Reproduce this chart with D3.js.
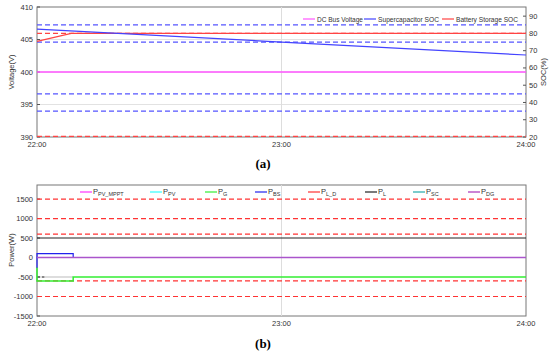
<!DOCTYPE html>
<html>
<head>
<meta charset="utf-8">
<script src="https://cdn.jsdelivr.net/npm/d3@7"></script>
<style>
  body { margin: 0; background: #fff; }
  text { font-family: "Liberation Sans", Arial, sans-serif; }
</style>
</head>
<body>
<div id="chart"></div>
<script>
var w = 550, h = 357;

// shared time axis (hours)
var timeDomain = [22, 24];
var timeTicks = [22, 23, 24];
var timeLabels = ["22:00", "23:00", "24:00"];

// (a) voltage / SOC
var voltTicks = [390, 395, 400, 405, 410];
var socTicks = [20, 30, 40, 50, 60, 70, 80, 90];
var dcBusTime = [22, 24];
var dcBusVoltage = [400, 400];
var scTime = [22, 23, 24];
var scSOC = [82.5, 75, 67.5];
var bsTime = [22, 22.14, 24];
var bsSOC = [75.4, 80, 80];
var scLimits = [85, 75, 45, 35];
var bsLimits = [80, 20.4];
var legendA = ["DC Bus Voltage", "Supercapacitor SOC", "Battery Storage SOC"];
var colorsA = ["#ff55ff", "#4444ff", "#ff4444"];

// (b) power
var powerTicks = [-1500, -1000, -500, 0, 500, 1000, 1500];
var stepTime = [22, 22, 22.148, 22.148, 24];
var pBS = [-260, 100, 100, 0, 0];
var pG = [-250, -600, -600, -500, -500];
var flatTime = [22, 24];
var pL = [500, 500];
var pZero = [0, 0];
var powerLimits = [1500, 1000, 600, -600, -1000];
var legendB = [["PV_MPPT", "#ff33ff"], ["PV", "#33ffff"], ["G", "#33ee33"], ["BS", "#2222ee"],
               ["L_D", "#ff3333"], ["L", "#222222"], ["SC", "#22aaaa"], ["DG", "#aa33bb"]];

var svg = d3.select("#chart").append("svg").attr("width", w).attr("height", h);

var x = d3.scaleLinear().domain(timeDomain).range([37, 526]);
var fs = 7.5;

function zip(t, v) { return t.map(function(d, i) { return [d, v[i]]; }); }

function frame(g, y0, y1) {
  g.append("rect").attr("x", 37).attr("y", y0).attr("width", 489).attr("height", y1 - y0)
    .attr("fill", "none").attr("stroke", "#777").attr("stroke-width", 1);
  g.selectAll(".xt").data(timeTicks).enter().append("text")
    .attr("x", function(d) { return x(d); }).attr("y", y1 + 10)
    .attr("text-anchor", "middle").attr("font-size", fs).attr("fill", "#333")
    .text(function(d, i) { return timeLabels[i]; });
  g.append("line").attr("x1", x(23)).attr("x2", x(23)).attr("y1", y0).attr("y2", y1)
    .attr("stroke", "#ddd").attr("stroke-width", 1);
}

function hline(g, yv, color, dashed, width) {
  g.append("line").attr("x1", 37).attr("x2", 526).attr("y1", yv).attr("y2", yv)
    .attr("stroke", color).attr("stroke-width", width || 1.2)
    .attr("stroke-dasharray", dashed ? "5,3" : null);
}

// ---------- (a) ----------
var ga = svg.append("g");
var yV = d3.scaleLinear().domain([390, 410]).range([137, 7]);
var yS = d3.scaleLinear().domain([20, 95.3]).range([137, 7]);

voltTicks.forEach(function(v) {
  if (v > 390 && v < 410) hline(ga, yV(v), "#e2e2e2", false, 1);
});
frame(ga, 7, 137);

voltTicks.forEach(function(v) {
  ga.append("text").attr("x", 33).attr("y", yV(v) + 2.5).attr("text-anchor", "end")
    .attr("font-size", fs).attr("fill", "#333").text(v);
  ga.append("line").attr("x1", 37).attr("x2", 40).attr("y1", yV(v)).attr("y2", yV(v)).attr("stroke", "#555");
});
socTicks.forEach(function(v) {
  ga.append("text").attr("x", 529).attr("y", yS(v) + 2.5)
    .attr("font-size", fs).attr("fill", "#333").text(v);
  ga.append("line").attr("x1", 523).attr("x2", 526).attr("y1", yS(v)).attr("y2", yS(v)).attr("stroke", "#555");
});
ga.append("text").attr("transform", "translate(14,72) rotate(-90)").attr("text-anchor", "middle")
  .attr("font-size", fs).attr("fill", "#333").text("Voltage(V)");
ga.append("text").attr("transform", "translate(546,72) rotate(-90)").attr("text-anchor", "middle")
  .attr("font-size", fs).attr("fill", "#333").text("SOC(%)");

scLimits.forEach(function(v) { hline(ga, yS(v), "#5555ff", true); });
bsLimits.forEach(function(v) { hline(ga, yS(v), "#ff4444", true); });

var lineV = d3.line().x(function(d) { return x(d[0]); }).y(function(d) { return yV(d[1]); });
var lineS = d3.line().x(function(d) { return x(d[0]); }).y(function(d) { return yS(d[1]); });

ga.append("path").attr("d", lineV(zip(dcBusTime, dcBusVoltage))).attr("fill", "none")
  .attr("stroke", colorsA[0]).attr("stroke-width", 1.5);
ga.append("path").attr("d", lineS(zip(bsTime, bsSOC))).attr("fill", "none")
  .attr("stroke", colorsA[2]).attr("stroke-width", 1.2);
ga.append("path").attr("d", lineS(zip(scTime, scSOC))).attr("fill", "none")
  .attr("stroke", colorsA[1]).attr("stroke-width", 1.2);

var legAx = [303, 364, 442];
var legAw = [46, 61, 62];
legendA.forEach(function(t, i) {
  ga.append("line").attr("x1", legAx[i]).attr("x2", legAx[i] + 12).attr("y1", 19).attr("y2", 19)
    .attr("stroke", colorsA[i]).attr("stroke-width", 1.2);
  ga.append("text").attr("x", legAx[i] + 14).attr("y", 21.5).attr("font-size", 7)
    .attr("textLength", legAw[i]).attr("lengthAdjust", "spacingAndGlyphs")
    .attr("fill", "#333").text(t);
});

svg.append("text").attr("x", 263).attr("y", 168).attr("text-anchor", "middle")
  .style("font-family", "Liberation Serif, serif").attr("font-weight", "bold").attr("font-size", 13)
  .text("(a)");

// ---------- (b) ----------
var gb = svg.append("g");
var yP = d3.scaleLinear().domain([-1500, 1860]).range([316, 185]);

frame(gb, 185, 316);
powerTicks.forEach(function(v) {
  gb.append("text").attr("x", 33).attr("y", yP(v) + 2.5).attr("text-anchor", "end")
    .attr("font-size", fs).attr("fill", "#333").text(v);
  gb.append("line").attr("x1", 37).attr("x2", 40).attr("y1", yP(v)).attr("y2", yP(v)).attr("stroke", "#555");
});
gb.append("text").attr("transform", "translate(14,250) rotate(-90)").attr("text-anchor", "middle")
  .attr("font-size", fs).attr("fill", "#333").text("Power(W)");

powerLimits.forEach(function(v) { hline(gb, yP(v), "#ff3333", true); });

var lineP = d3.line().x(function(d) { return x(d[0]); }).y(function(d) { return yP(d[1]); });
// short reference at -500 before the step
gb.append("path").attr("d", lineP([[22, -500], [22.148, -500]])).attr("fill", "none")
  .attr("stroke", "#bbb").attr("stroke-width", 1);
gb.append("path").attr("d", lineP([[22, -500], [22.03, -500]])).attr("fill", "none")
  .attr("stroke", "#333").attr("stroke-width", 1).attr("stroke-dasharray", "3,2");

gb.append("path").attr("d", lineP(zip(flatTime, pL))).attr("fill", "none")
  .attr("stroke", "#222").attr("stroke-width", 1.2);
gb.append("path").attr("d", lineP(zip(stepTime, pG))).attr("fill", "none")
  .attr("stroke", "#33ee33").attr("stroke-width", 1.5);
gb.append("path").attr("d", lineP(zip(stepTime, pBS))).attr("fill", "none")
  .attr("stroke", "#2222ee").attr("stroke-width", 1.2);
gb.append("path").attr("d", lineP(zip(flatTime, pZero))).attr("fill", "none")
  .attr("stroke", "#aa55cc").attr("stroke-width", 1.5);

var legBx = [80, 150, 205, 255, 308, 365, 413, 468];
legendB.forEach(function(d, i) {
  gb.append("line").attr("x1", legBx[i]).attr("x2", legBx[i] + 12).attr("y1", 192).attr("y2", 192)
    .attr("stroke", d[1]).attr("stroke-width", 1.2);
  var t = gb.append("text").attr("x", legBx[i] + 13).attr("y", 194).attr("font-size", 7.5).attr("fill", "#333");
  t.append("tspan").text("P");
  t.append("tspan").attr("font-size", 5.5).attr("dy", 2).text(d[0]);
});

svg.append("text").attr("x", 263).attr("y", 348).attr("text-anchor", "middle")
  .style("font-family", "Liberation Serif, serif").attr("font-weight", "bold").attr("font-size", 13)
  .text("(b)");
</script>
</body>
</html>
